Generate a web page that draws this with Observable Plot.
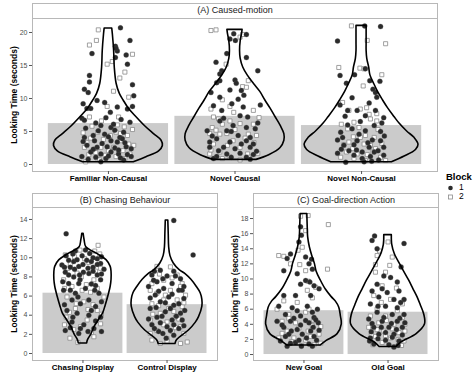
<!DOCTYPE html>
<html><head><meta charset="utf-8">
<script src="https://cdn.jsdelivr.net/npm/d3@7"></script>
<script src="https://cdn.jsdelivr.net/npm/@observablehq/plot@0.6"></script>
<style>
body{margin:0;background:#fff;font-family:"Liberation Sans",Arial,sans-serif;}
#root{position:relative;width:474px;height:379px;overflow:hidden;background:#fff;}
.strip{position:absolute;box-sizing:border-box;border:1px solid #b8b8b8;border-bottom:1.6px solid #6a6a6a;background:#fff;font-size:9px;line-height:13px;color:#1a1a1a;text-align:center;}
.pl{position:absolute;}
.pl svg{overflow:visible;}
.pl g[aria-label="x-axis tick label"] text{font-weight:bold;fill:#000;font-size:8px;}
.pl g[aria-label="y-axis tick label"] text{fill:#4d4d4d;font-size:7px;}
.pl g[aria-label="x-axis tick"],.pl g[aria-label="y-axis tick"]{stroke:#555;}
.leg{position:absolute;font-size:9px;color:#000;}
</style></head>
<body><div id="root"></div>
<script>
// ---------- data ----------
const catsA = ["Familiar Non-Causal","Novel Causal","Novel Non-Causal"];
const meansA = [6.2, 7.3, 5.9];
const catsB = ["Chasing Display","Control Display"];
const meansB = [6.3, 5.1];
const catsC = ["New Goal","Old Goal"];
const meansC = [5.8, 5.6];
const ticksA = [0,5,10,15,20];
const ticksB = [0,2,4,6,8,10,12,14];
const ticksC = [0,2,4,6,8,10,12,14,16,18];
const stripLabels = ["(A) Caused-motion","(B) Chasing Behaviour","(C) Goal-direction Action"];
const blockLabels = ["1","2"];

// violin outlines: [value, half-width in category units]
const violinA1 = [[0.35,0.2],[1.1,0.3],[2.0,0.4],[2.8,0.43],[3.6,0.42],[4.6,0.36],[5.8,0.29],[7.2,0.22],[8.5,0.16],[9.7,0.12],[10.7,0.09],[12.2,0.065],[14.7,0.05],[17.2,0.045],[19.7,0.035],[20.6,0.03]];
const violinA2 = [[0.7,0.17],[1.4,0.27],[2.5,0.36],[3.6,0.39],[4.6,0.39],[5.9,0.36],[7.2,0.32],[8.5,0.28],[9.7,0.24],[11,0.2],[12.2,0.15],[13.5,0.1],[14.7,0.065],[16,0.045],[17.2,0.04],[18.7,0.045],[19.7,0.055],[20.4,0.06]];
const violinA3 = [[0.35,0.24],[1.2,0.34],[2.2,0.43],[3.0,0.45],[4.0,0.42],[5.0,0.36],[6.2,0.3],[7.2,0.26],[8.5,0.21],[9.7,0.17],[11,0.13],[12.2,0.1],[13.5,0.07],[14.7,0.06],[16,0.045],[17.2,0.04],[18.5,0.04],[20,0.04],[21.0,0.04]];
const violinB1 = [[1.05,0.05],[1.4,0.06],[2.0,0.1],[2.8,0.14],[3.5,0.19],[4.2,0.24],[5.0,0.27],[5.9,0.3],[7.0,0.33],[7.7,0.34],[8.5,0.34],[9.05,0.33],[9.75,0.28],[10.4,0.17],[11.1,0.04],[11.8,0.02],[12.5,0.008]];
const violinB2 = [[1.0,0.1],[1.4,0.12],[2.4,0.26],[3.2,0.34],[3.8,0.38],[4.9,0.42],[5.6,0.42],[6.3,0.4],[7.0,0.35],[7.7,0.29],[8.3,0.22],[8.7,0.15],[9.4,0.08],[10.2,0.04],[11.1,0.025],[12.5,0.02],[13.9,0.015]];
const violinC1 = [[1.2,0.2],[1.8,0.27],[2.7,0.4],[4.0,0.45],[5.0,0.44],[6.2,0.42],[7.0,0.38],[7.6,0.33],[8.6,0.26],[9.8,0.2],[11,0.15],[12,0.13],[13,0.1],[14.2,0.07],[15.5,0.05],[16.8,0.045],[18.6,0.04]];
const violinC2 = [[1.0,0.1],[1.6,0.16],[2.7,0.34],[4.0,0.44],[5.3,0.43],[6.5,0.39],[7.6,0.35],[8.7,0.3],[9.8,0.25],[11.6,0.16],[13.3,0.08],[14.5,0.05],[15.8,0.045]];

// jittered points: [offset from category centre, value]
const dotsA1 = [[0.095,20.7],[0.055,17.9],[0.07,17.2],[0.17,18.8],[0.14,16.6],[-0.13,16.8],[0.06,17.6],[0.055,16.2],[0.15,15.2],[-0.15,13.5],[-0.15,12.5],[0.19,12.1],[-0.19,11.4],[-0.16,10.9],[-0.09,9.7],[-0.03,9.4],[0.19,8.8],[-0.17,8.5],[-0.14,8.5],[0.07,8.7],[0.015,7.9],[0.15,8.4],[-0.21,7.0],[-0.19,6.7],[-0.06,5.9],[0.02,5.6],[0.04,6.1],[-0.08,5.1],[-0.19,4.1],[-0.03,4.6],[0.09,4.1],[0.12,4.9],[-0.11,3.6],[0.02,3.6],[0.07,3.4],[-0.17,2.9],[-0.09,2.6],[-0.01,2.7],[0.05,2.5],[0.14,2.7],[0.18,2.4],[-0.14,1.9],[-0.06,1.6],[0.02,1.9],[0.08,1.6],[0.15,1.5],[-0.21,1.2],[-0.1,1.1],[-0.02,0.9],[0.095,1.0],[-0.06,0.4],
  [-0.18,5.5],[-0.12,4.4],[0.0,4.2],[0.11,3.9],[-0.05,3.2],[0.13,3.3],[-0.2,3.5],[0.08,2.2],[-0.12,2.3],[0.0,1.3],[0.18,1.2],[-0.16,0.8],[0.12,0.7],[0.05,5.2],[-0.1,6.3],[0.17,6.4],[-0.02,7.1],[0.2,10.4],[-0.2,9.2],[0.1,6.8]];
const sqA1 = [[-0.08,20.4],[-0.15,18.1],[-0.095,18.8],[-0.01,15.2],[0.03,15.6],[0.19,16.7],[0.13,14.0],[0.09,13.1],[0.04,11.1],[0.16,10.2],[-0.01,8.8],[-0.15,7.2],[0.08,7.2],[-0.055,6.6],[0.125,5.7],[0.07,6.0],[-0.085,4.9],[-0.14,4.0],[0.015,4.4],[0.095,4.7],[0.15,4.4],[0.16,3.1],[-0.19,2.6],[-0.06,2.6],[0.04,2.6],[0.115,2.1],[0.17,1.6],[-0.155,1.5],[-0.025,1.4],[0.06,1.2],[-0.09,1.0],[-0.18,0.4],
  [-0.13,5.8],[0.19,5.3],[-0.04,3.8],[0.1,3.6],[-0.2,4.8],[0.2,2.9],[-0.1,1.8],[0.13,0.9],[0.0,2.1],[-0.17,3.3],[0.06,4.9],[-0.07,0.7]];
const dotsA2 = [[-0.01,19.8],[-0.04,19.0],[0.003,18.8],[0.09,19.7],[-0.065,16.8],[-0.15,15.5],[0.09,16.2],[-0.105,14.2],[-0.12,13.7],[0.18,14.2],[-0.145,12.4],[-0.12,12.7],[0,12.8],[0.01,12.3],[-0.04,11.3],[0.05,11.2],[-0.12,10.2],[0.025,9.9],[-0.17,8.9],[-0.025,9.2],[0.065,8.7],[-0.105,8.2],[0.04,7.4],[-0.12,6.6],[-0.015,5.9],[0.09,5.6],[-0.22,5.1],[-0.065,5.1],[0.16,5.4],[0.025,4.4],[-0.145,3.9],[-0.04,3.4],[0.09,3.6],[0.145,3.1],[-0.2,2.6],[-0.09,2.6],[0,2.4],[0.12,2.6],[-0.065,1.6],[0.04,1.7],[0.145,1.5],[-0.145,1.2],[0.09,1.1],
  [-0.18,4.3],[0.12,4.1],[-0.03,5.0],[0.18,6.3],[-0.09,7.0],[0.1,7.2],[-0.2,3.4],[0.05,3.1],[-0.13,2.1],[0.17,2.0],[-0.03,1.1],[0.12,0.8],[-0.17,0.9],[0.2,9.0],[-0.19,10.9],[0.07,10.5]];
const sqA2 = [[-0.19,20.3],[-0.15,20.4],[0.04,19.3],[0.06,19.7],[-0.07,15.2],[0.105,12.7],[0.06,11.8],[0.09,11.7],[-0.1,9.8],[-0.19,8.4],[-0.01,7.9],[0.145,8.2],[-0.17,7.2],[-0.13,6.9],[-0.1,6.1],[-0.18,5.6],[-0.04,6.6],[0.04,6.2],[0.145,6.1],[-0.2,4.7],[-0.12,4.6],[-0.065,4.7],[0.105,4.6],[0.17,4.4],[-0.015,3.6],[-0.17,3.1],[0.04,2.6],[-0.12,1.9],[0.1,1.6],[0.18,1.7],[-0.2,1.6],[-0.04,1.1],[0.04,0.7],
  [0.0,5.3],[-0.15,5.2],[0.08,4.0],[-0.06,2.9],[0.15,3.3],[-0.19,2.2],[0.11,1.1],[-0.1,0.9],[0.19,7.1],[-0.04,8.8]];
const dotsA3 = [[0.025,21.0],[0.15,20.9],[-0.19,18.7],[-0.17,13.5],[-0.055,13.6],[0.03,14.5],[-0.12,12.3],[0.065,12.7],[0.145,12.6],[0.11,10.9],[-0.075,10.1],[0.12,10.2],[0.06,9.3],[-0.11,8.2],[-0.035,8.2],[0.11,8.2],[-0.13,7.3],[0.03,7.4],[0.175,7.1],[-0.01,6.5],[0.1,5.9],[-0.075,5.4],[-0.165,4.9],[0.03,5.1],[0.15,5.0],[-0.15,4.1],[-0.035,3.6],[0.085,3.7],[0.15,3.6],[-0.14,2.9],[-0.06,3.0],[0.06,2.6],[0.175,2.6],[-0.1,2.1],[0.005,1.9],[0.1,1.9],[-0.06,1.4],[0.07,1.2],[0.175,1.4],[-0.125,0.35],[0.005,0.9],[0.135,0.7],
  [-0.19,3.7],[0.18,4.3],[-0.02,4.6],[0.05,3.3],[-0.16,2.3],[0.13,2.1],[-0.04,2.2],[0.08,0.5],[-0.19,1.7],[0.02,0.4],[-0.11,6.0],[0.16,6.3],[-0.17,9.0],[0.09,11.4]];
const sqA3 = [[-0.08,21.0],[0.045,18.8],[0.19,18.3],[-0.18,14.7],[-0.013,14.6],[0.02,14.5],[0.16,13.6],[0.013,11.9],[-0.15,9.4],[-0.1,8.2],[-0.01,8.4],[0.04,8.6],[0.12,7.7],[-0.06,6.4],[0.07,6.9],[0.12,6.6],[-0.11,5.4],[-0.02,5.6],[-0.065,4.2],[-0.01,4.1],[0.03,4.4],[0.1,4.1],[-0.1,3.4],[0.02,3.1],[0.07,2.9],[-0.07,2.4],[0.11,2.4],[-0.035,1.6],[0.045,1.5],[-0.165,1.1],[0.15,1.1],[0.03,0.6],
  [-0.14,3.0],[0.16,3.2],[-0.04,3.6],[0.09,1.9],[-0.12,1.9],[0.19,0.6],[-0.06,0.9],[0.13,5.3],[-0.16,6.1],[0.06,7.6]];
const dotsB1 = [[-0.2,12.5],[-0.09,10.7],[-0.01,10.2],[0.08,10.45],[0.17,9.9],[-0.17,9.75],[-0.11,9.6],[0.045,9.75],[0.21,9.4],[-0.25,9.25],[-0.15,9.0],[-0.05,9.1],[0.12,9.0],[0.25,8.8],[-0.21,8.5],[0.005,8.5],[0.07,8.35],[0.17,8.2],[-0.11,8.0],[-0.035,7.7],[0.21,7.7],[-0.17,7.3],[0.1,7.25],[0.03,6.8],[-0.23,6.6],[-0.09,6.3],[0.19,6.3],[-0.13,5.6],[0.07,5.6],[-0.03,5.2],[0.15,4.9],[-0.19,4.5],[-0.07,4.2],[0.07,4.0],[0.21,3.8],[-0.13,3.3],[0.01,3.0],[0.13,2.6],[-0.21,2.4],[-0.05,2.1],[0.06,2.3],
  [-0.2,10.2],[-0.12,10.4],[0.03,10.8],[0.12,10.0],[0.22,10.1],[-0.07,9.8],[0.1,9.6],[-0.22,9.0],[0.0,9.3],[0.17,9.3],[-0.1,8.8],[0.06,8.9],[-0.17,8.2],[-0.04,8.2],[0.12,8.6],[0.22,8.3],[-0.24,7.5],[-0.05,7.3],[0.15,7.1],[-0.15,6.6],[0.14,6.6],[-0.06,5.9],[0.22,5.4],[-0.22,5.1],[0.1,4.5],[-0.12,3.8],[0.15,3.4],[-0.03,2.6],[0.22,2.3],[-0.15,2.7]];
const sqB1 = [[-0.21,10.3],[-0.035,10.8],[0.14,10.7],[0.18,11.3],[-0.15,9.4],[0.07,9.5],[0.21,8.9],[-0.07,8.4],[-0.23,7.7],[0.13,7.7],[-0.13,7.0],[-0.01,6.6],[0.25,5.9],[0.09,6.4],[-0.19,5.9],[0.01,5.4],[-0.09,4.7],[0.17,4.5],[-0.2,3.8],[0.05,3.5],[-0.03,2.8],[0.21,3.1],[-0.155,1.6],[-0.06,1.15],[0.13,1.75],
  [-0.1,10.1],[0.2,10.4],[0.02,9.9],[-0.18,8.9],[0.15,8.6],[-0.02,8.0],[0.04,7.2],[-0.22,6.8],[0.17,6.8],[-0.08,5.2],[0.12,5.1],[-0.16,4.3],[0.06,4.6],[0.22,4.1],[-0.11,2.5],[0.1,2.2],[-0.22,3.0]];
const dotsB2 = [[0.08,13.9],[0.31,10.3],[-0.08,8.7],[0.08,8.6],[-0.18,8.2],[0,8.1],[0.16,7.8],[-0.12,7.5],[0.06,7.3],[-0.22,7.0],[-0.04,6.8],[0.14,6.6],[-0.14,6.1],[0.02,5.9],[0.2,5.75],[-0.08,5.4],[0.08,5.05],[-0.2,4.7],[-0.02,4.35],[0.16,4.2],[-0.12,3.8],[0.06,3.5],[-0.18,3.0],[0,2.8],[0.14,2.6],[-0.1,2.3],[0.08,1.9],[-0.01,1.6],[0.18,3.5],[-0.16,7.65],
  [-0.05,7.8],[0.1,8.1],[-0.15,8.6],[0.2,7.0],[-0.1,6.5],[0.06,6.2],[0.18,6.6],[-0.2,5.8],[-0.02,5.3],[0.14,5.2],[-0.13,4.8],[0.04,4.7],[0.21,4.5],[-0.06,3.9],[0.11,3.9],[-0.22,3.6],[-0.08,3.2],[0.08,3.0],[0.2,2.9],[-0.15,2.6],[0.04,2.4],[-0.05,2.1]];
const sqB2 = [[-0.12,9.1],[0.04,9.05],[0.12,8.2],[-0.04,7.65],[-0.18,7.3],[0.18,7.3],[0.04,6.6],[-0.12,6.3],[0.22,6.1],[-0.04,5.6],[0.12,5.6],[-0.18,5.2],[0.02,4.7],[0.18,4.9],[-0.08,4.2],[0.1,3.8],[-0.2,3.5],[0,3.3],[0.16,2.8],[-0.12,2.4],[0.06,2.3],[-0.18,1.4],[-0.08,1.05],[0.16,1.05],[0,1.55],
  [-0.09,8.3],[0.06,7.9],[0.16,7.0],[-0.2,6.6],[-0.02,6.1],[0.2,5.3],[-0.1,5.0],[0.08,4.4],[-0.17,4.1],[0.14,3.6],[-0.04,3.0],[0.1,2.7],[-0.2,2.1],[0.2,2.1],[0.0,1.3],[0.24,1.2]];
const dotsC1 = [[-0.04,16.9],[-0.03,15.8],[-0.06,14.9],[-0.16,13.3],[-0.2,12.7],[0.02,12.9],[0.06,12.0],[-0.24,11.1],[-0.08,10.7],[0.1,11.3],[0.02,9.8],[-0.04,9.3],[0.12,9.1],[-0.24,7.8],[-0.1,7.8],[0.08,7.8],[0.18,8.7],[-0.3,6.4],[-0.14,6.2],[0.04,6.4],[0.16,6.0],[-0.22,5.3],[-0.04,5.1],[0.12,4.9],[-0.32,4.4],[-0.16,4.4],[0.06,4.2],[0.17,4.2],[-0.24,3.6],[-0.08,3.3],[0.11,3.6],[-0.18,2.7],[-0.02,2.7],[0.12,2.4],[-0.28,1.8],[-0.1,1.6],[0.06,1.4],[-0.2,1.1],[-0.03,1.1],
  [-0.12,4.8],[0.02,4.5],[0.14,4.6],[-0.26,3.9],[-0.04,3.9],[0.08,3.1],[-0.15,3.1],[0.18,3.2],[-0.22,2.4],[0.03,2.2],[0.15,1.9],[-0.06,1.9],[-0.16,1.5],[0.1,1.1],[-0.08,5.8],[0.1,5.6],[0.07,9.6],[0.09,12.6]];
const sqC1 = [[-0.04,18.3],[0.05,18.4],[0.29,17.2],[0.02,16.4],[-0.02,14.2],[-0.07,13.8],[-0.3,13.1],[-0.24,13.0],[-0.16,12.0],[0.02,11.1],[0.28,11.3],[0.14,8.9],[0.04,8.5],[-0.24,7.1],[-0.08,6.9],[-0.32,6.0],[-0.18,5.3],[0.02,5.6],[-0.26,4.4],[-0.1,4.2],[0.1,3.8],[-0.2,3.1],[0.05,3.1],[0.18,2.7],[-0.3,2.2],[-0.12,2.2],[0.02,1.9],[0.12,1.3],
  [-0.18,4.8],[0.12,4.5],[-0.06,3.5],[0.2,3.7],[-0.26,2.8],[0.08,2.4],[-0.15,1.7],[0.2,1.5],[-0.03,1.2],[0.06,6.0],[0.1,7.5],[0.05,9.7],[-0.05,11.9]];
const dotsC2 = [[-0.16,15.7],[-0.19,15.1],[0.19,14.7],[-0.13,14.0],[0.155,11.6],[-0.05,10.4],[0.03,10.2],[-0.13,9.3],[0.11,9.6],[-0.19,8.4],[-0.01,8.2],[0.13,8.4],[-0.11,7.6],[0.07,7.3],[0.19,7.3],[-0.21,6.7],[-0.03,6.4],[0.11,6.2],[-0.13,5.6],[0.05,5.3],[0.19,5.3],[-0.23,4.7],[-0.07,4.4],[0.11,4.4],[-0.17,3.6],[0.01,3.6],[0.17,3.6],[-0.11,2.7],[0.07,2.7],[-0.21,2.2],[-0.03,1.9],[0.13,1.8],[-0.17,1.4],[0.07,1.0],
  [-0.05,4.9],[0.14,4.8],[-0.19,4.1],[0.04,4.1],[0.2,4.2],[-0.08,3.6],[0.1,3.3],[-0.2,3.0],[-0.03,2.9],[0.17,2.6],[-0.12,2.1],[0.05,2.3],[0.01,1.3],[-0.22,1.8],[0.12,1.2],[-0.12,6.4],[0.15,6.9],[-0.07,8.7]];
const sqC2 = [[0,14.9],[-0.1,13.7],[-0.13,13.1],[0.02,11.8],[-0.03,10.9],[-0.15,10.9],[-0.07,9.1],[-0.17,7.8],[0.03,7.3],[0.17,6.7],[-0.13,6.0],[0.11,5.8],[-0.21,5.1],[-0.03,5.1],[0.17,4.9],[-0.11,4.2],[0.07,4.0],[-0.23,3.6],[-0.05,3.1],[0.13,2.9],[-0.15,2.4],[0.03,2.2],[0.19,1.8],[-0.07,1.6],[0.07,1.0],
  [-0.02,4.5],[0.2,4.0],[-0.13,3.3],[0.05,3.4],[0.2,3.1],[-0.2,2.6],[-0.03,2.5],[0.12,2.0],[-0.18,1.3],[0.16,1.2],[-0.08,6.9],[0.1,8.8],[-0.15,11.9],[0.05,12.9]];

// ---------- drawing ----------
const root = document.getElementById("root");

function strip(text, left, top, width, height) {
  const d = document.createElement("div");
  d.className = "strip";
  Object.assign(d.style, {left: left + "px", top: top + "px", width: width + "px", height: height + "px"});
  d.textContent = text;
  root.appendChild(d);
}

function panel({cats, means, violins, dots, squares, yDomain, yTicks, left, top, width, height, marginLeft, marginRight}) {
  const bars = means.map((m, k) => ({i: k + 1, m}));
  const vio = violins.flatMap((arr, k) => arr.map(([v, hw]) => ({i: k + 1, v, hw})));
  const d1 = dots.flatMap((arr, k) => arr.map(([o, v]) => ({i: k + 1, o, v})));
  const d2 = squares.flatMap((arr, k) => arr.map(([o, v]) => ({i: k + 1, o, v})));
  const n = cats.length;
  const p = Plot.plot({
    width, height, marginLeft, marginRight, marginTop: 0, marginBottom: 20,
    style: {fontFamily: "Liberation Sans, Arial, sans-serif", fontSize: "7px", background: "transparent", color: "#333"},
    x: {domain: [0.4, n + 0.6]},
    y: {domain: yDomain},
    marks: [
      Plot.rect(bars, {x1: d => d.i - 0.475, x2: d => d.i + 0.475, y1: 0, y2: "m", fill: "#cbcbcb"}),
      Plot.dot(d2, {x: d => d.i + d.o, y: "v", symbol: "square", r: 2.3, fill: "white", stroke: "#8a8a8a", strokeWidth: 0.8}),
      Plot.dot(d1, {x: d => d.i + d.o, y: "v", r: 2.5, fill: "#2b2b2b", stroke: "#555", strokeWidth: 0.3}),
      Plot.areaX(vio, {y: "v", x1: d => d.i - d.hw, x2: d => d.i + d.hw, z: "i", fill: "none", stroke: "black", strokeWidth: 1.6, curve: "catmull-rom"}),
      Plot.frame({stroke: "#b8b8b8"}),
      Plot.axisY({ticks: yTicks, tickSize: 3, tickPadding: 2, label: null}),
      Plot.axisX({ticks: d3.range(1, n + 1), tickFormat: i => cats[i - 1], tickSize: 3, tickPadding: 1, label: null}),
      Plot.text(["Looking Time (seconds)"], {text: d => d, frameAnchor: "left", textAnchor: "middle", rotate: -90, dx: -18, fontWeight: "bold", fontSize: 8.5, fill: "black"})
    ]
  });
  const wrap = document.createElement("div");
  wrap.className = "pl";
  Object.assign(wrap.style, {left: left + "px", top: top + "px"});
  wrap.appendChild(p);
  root.appendChild(wrap);
}

// Panel A
strip(stripLabels[0], 32, 3, 406, 16);
panel({cats: catsA, means: meansA, violins: [violinA1, violinA2, violinA3],
  dots: [dotsA1, dotsA2, dotsA3], squares: [sqA1, sqA2, sqA3],
  yDomain: [-1.06, 22.12], yTicks: ticksA, left: 0, top: 18, width: 438, height: 173, marginLeft: 32, marginRight: 1});
// Panel B
strip(stripLabels[1], 32, 193, 186, 15);
panel({cats: catsB, means: meansB, violins: [violinB1, violinB2],
  dots: [dotsB1, dotsB2], squares: [sqB1, sqB2],
  yDomain: [-0.73, 15.25], yTicks: ticksB, left: 0, top: 207, width: 218, height: 173, marginLeft: 32, marginRight: 1});
// Panel C
strip(stripLabels[2], 253, 193, 186, 15);
panel({cats: catsC, means: meansC, violins: [violinC1, violinC2],
  dots: [dotsC1, dotsC2], squares: [sqC1, sqC2],
  yDomain: [-0.79, 19.46], yTicks: ticksC, left: 221, top: 207, width: 218, height: 173, marginLeft: 32, marginRight: 1});

// Legend
const lg = document.createElement("div");
lg.className = "leg";
Object.assign(lg.style, {left: "446px", top: "171px"});
lg.innerHTML = `<div style="font-weight:bold;font-size:9.5px;line-height:11px;margin-bottom:1px">Block</div>` +
  blockLabels.map((b, k) => `<div style="display:flex;align-items:center;height:9px;line-height:9px;font-size:8.5px">` +
    `<svg width="9" height="8" style="margin-right:4px">` +
    (k === 0 ? `<circle cx="4.5" cy="4" r="2.3" fill="#2b2b2b"/>` : `<rect x="2.5" y="2" width="4" height="4" fill="white" stroke="#8a8a8a" stroke-width="0.8"/>`) +
    `</svg>${b}</div>`).join("");
root.appendChild(lg);
</script></body></html>
